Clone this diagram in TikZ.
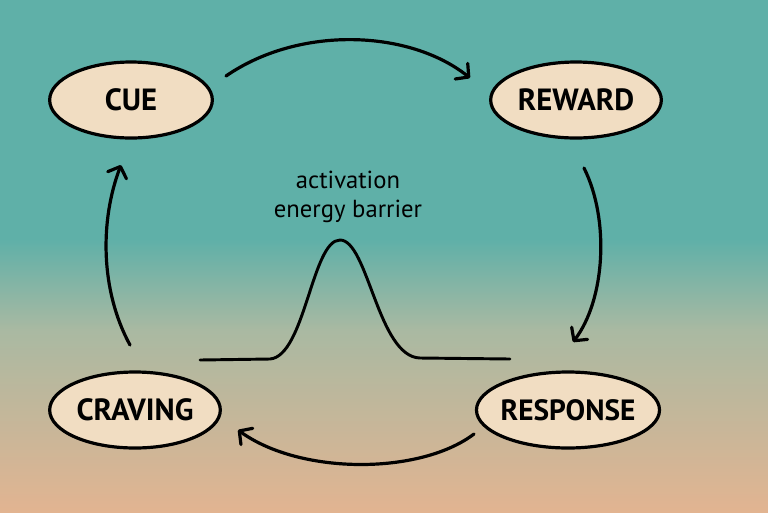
\documentclass[tikz,border=0pt]{standalone}
\usepackage{fontspec}
\setmainfont{PT Sans}
\usetikzlibrary{shapes.geometric,arrows.meta}
\definecolor{teal}{HTML}{5FB0A8}
\definecolor{midc}{HTML}{A9B9A2}
\definecolor{peach}{HTML}{E2B491}
\definecolor{fillc}{HTML}{F1DDC2}
\tikzset{
  stage/.style={ellipse,draw=black,line width=2.4pt,fill=fillc,minimum height=57pt,font=\bfseries\fontsize{23}{26}\selectfont,inner sep=-2pt},
  flow/.style={line width=2.4pt,-{Straight Barb[length=7pt,width=15pt,round]},line cap=round},
}
\begin{document}
\begin{tikzpicture}[x=0.75pt,y=-0.75pt]
\useasboundingbox (0,0) rectangle (768,512);
\fill[teal] (0,0) rectangle (768,240);
\shade[top color=teal,bottom color=midc] (0,239) rectangle (768,330);
\shade[top color=midc,bottom color=peach] (0,329) rectangle (768,512);
\node[stage,minimum width=122pt] (cue) at (131,100) {CUE};
\node[stage,minimum width=128pt] (rew) at (576,100) {REWARD};
\node[stage,minimum width=128pt] (crav) at (135,410) {CRAVING};
\node[stage,minimum width=122pt,font=\bfseries\fontsize{22}{26}\selectfont] (resp) at (568,410) {RESPONSE};
\coordinate (a1) at (226,76); \coordinate (a2) at (470,78);
\draw[flow] (a1) .. controls (300,25) and (410,30) .. (a2);
\coordinate (b1) at (584,168); \coordinate (b2) at (573,342);
\draw[flow] (b1) .. controls (610,220) and (605,300) .. (b2);
\coordinate (c1) at (474,434); \coordinate (c2) at (238,430);
\draw[flow] (c1) .. controls (420,475) and (300,475) .. (c2);
\coordinate (d1) at (130,345); \coordinate (d2) at (121,165);
\draw[flow] (d1) .. controls (100,290) and (100,220) .. (d2);
\draw[line width=2.2pt,line cap=round] (200,360) -- (270,359) .. controls (305,356) and (312,240) .. (340,240) .. controls (368,240) and (378,357) .. (420,358) -- (510,359);
\node[align=center,font=\fontsize{18.5}{22}\selectfont] (lbl) at (348,197) {activation\\energy barrier};
\end{tikzpicture}
\end{document}
